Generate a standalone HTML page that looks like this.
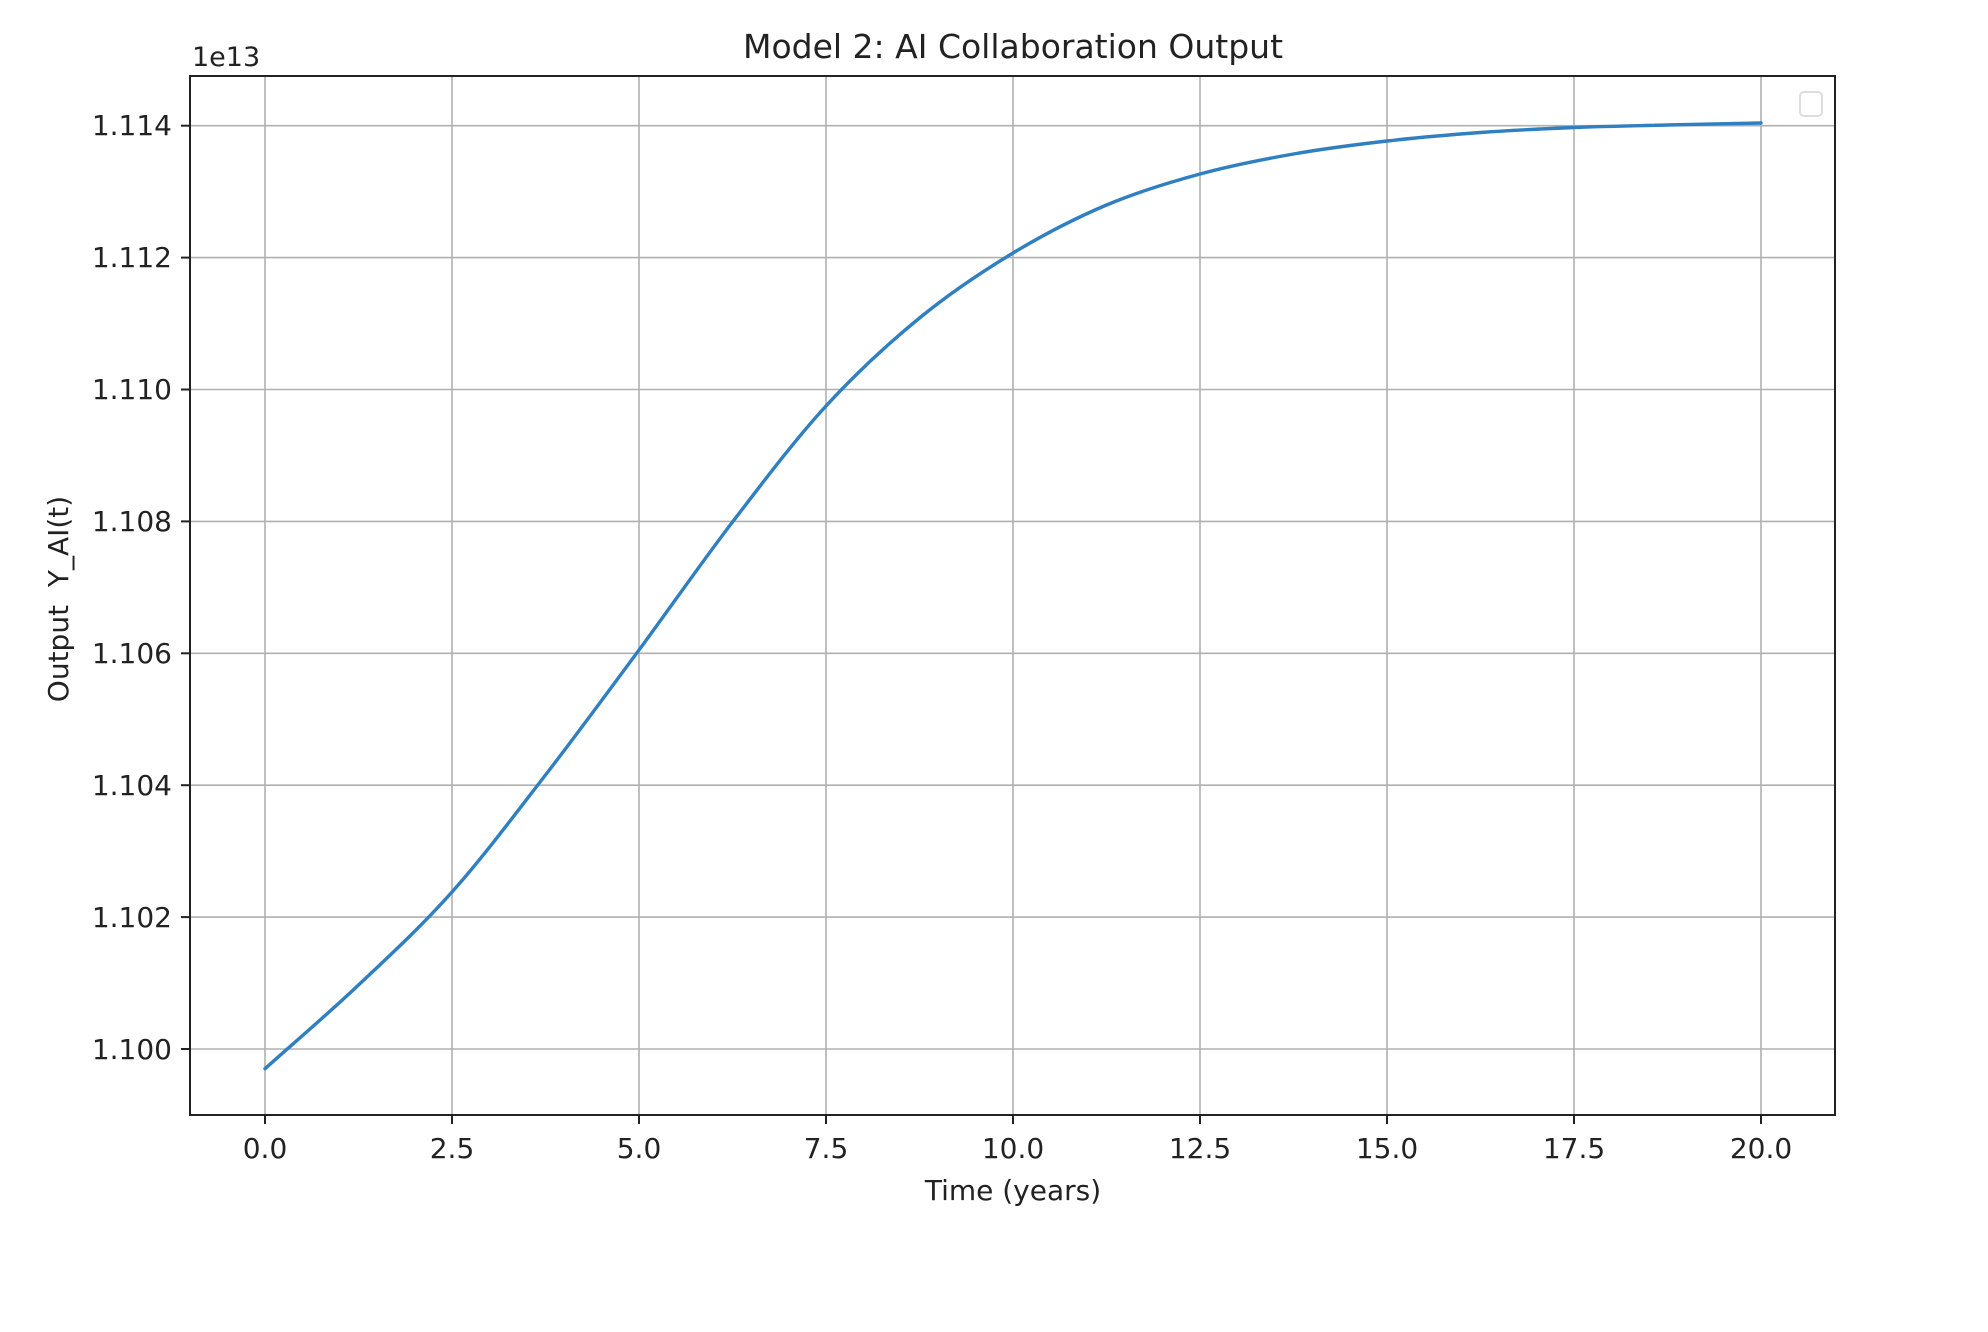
<!DOCTYPE html>
<html><head><meta charset="utf-8"><style>
html,body{margin:0;padding:0;background:#fff;}
svg{display:block;font-family:"DejaVu Sans","Liberation Sans",sans-serif;}
</style></head><body>
<svg width="1988" height="1332" viewBox="0 0 1988 1332" xmlns="http://www.w3.org/2000/svg">
<rect width="1988" height="1332" fill="#fff"/>
<g stroke="#b0b0b0" stroke-width="1.6">
<line x1="265" y1="76" x2="265" y2="1115"/><line x1="452" y1="76" x2="452" y2="1115"/>
<line x1="639" y1="76" x2="639" y2="1115"/><line x1="826" y1="76" x2="826" y2="1115"/>
<line x1="1013" y1="76" x2="1013" y2="1115"/><line x1="1200" y1="76" x2="1200" y2="1115"/>
<line x1="1387" y1="76" x2="1387" y2="1115"/><line x1="1574" y1="76" x2="1574" y2="1115"/>
<line x1="1761" y1="76" x2="1761" y2="1115"/>
<line x1="190" y1="125.7" x2="1835" y2="125.7"/><line x1="190" y1="257.6" x2="1835" y2="257.6"/>
<line x1="190" y1="389.5" x2="1835" y2="389.5"/><line x1="190" y1="521.4" x2="1835" y2="521.4"/>
<line x1="190" y1="653.3" x2="1835" y2="653.3"/><line x1="190" y1="785.2" x2="1835" y2="785.2"/>
<line x1="190" y1="917.1" x2="1835" y2="917.1"/><line x1="190" y1="1049" x2="1835" y2="1049"/>
</g>
<path fill="none" stroke="#2f7fc1" stroke-width="3.4" stroke-linejoin="round" stroke-linecap="round"
d="M265,1068.7
C296.2,1040.8 327.3,1014.5 358.5,985
C389.7,955.6 420.8,927 452,892
C483.2,857 514.3,815.3 545.5,775
C576.7,734.7 607.8,692.2 639,650
C670.2,607.8 701.3,562.7 732.5,522
C763.7,481.3 794.8,440 826,406
C857.2,372 888.3,343.5 919.5,318
C950.7,292.5 981.8,271.8 1013,253
C1044.2,234.2 1075.3,218.2 1106.5,205
C1137.7,191.8 1168.8,182.5 1200,174
C1231.2,165.5 1262.3,159.5 1293.5,154
C1324.7,148.5 1355.8,144.6 1387,141
C1418.2,137.4 1449.3,134.8 1480.5,132.5
C1511.7,130.2 1542.8,128.8 1574,127.5
C1605.2,126.2 1636.3,125.8 1667.5,125
C1698.7,124.2 1729.8,123.7 1761,123"/>
<rect x="190" y="76" width="1645" height="1039" fill="none" stroke="#222" stroke-width="2"/>
<rect x="1800" y="92" width="22" height="24" rx="4" fill="none" stroke="#ddd" stroke-width="2"/>
<g stroke="#222" stroke-width="2">
<line x1="265" y1="1115" x2="265" y2="1124"/><line x1="452" y1="1115" x2="452" y2="1124"/>
<line x1="639" y1="1115" x2="639" y2="1124"/><line x1="826" y1="1115" x2="826" y2="1124"/>
<line x1="1013" y1="1115" x2="1013" y2="1124"/><line x1="1200" y1="1115" x2="1200" y2="1124"/>
<line x1="1387" y1="1115" x2="1387" y2="1124"/><line x1="1574" y1="1115" x2="1574" y2="1124"/>
<line x1="1761" y1="1115" x2="1761" y2="1124"/>
<line x1="181" y1="125.7" x2="190" y2="125.7"/><line x1="181" y1="257.6" x2="190" y2="257.6"/>
<line x1="181" y1="389.5" x2="190" y2="389.5"/><line x1="181" y1="521.4" x2="190" y2="521.4"/>
<line x1="181" y1="653.3" x2="190" y2="653.3"/><line x1="181" y1="785.2" x2="190" y2="785.2"/>
<line x1="181" y1="917.1" x2="190" y2="917.1"/><line x1="181" y1="1049" x2="190" y2="1049"/>
</g>
<g font-size="28" fill="#222" text-anchor="middle">
<text x="265" y="1158">0.0</text><text x="452" y="1158">2.5</text><text x="639" y="1158">5.0</text>
<text x="826" y="1158">7.5</text><text x="1013" y="1158">10.0</text><text x="1200" y="1158">12.5</text>
<text x="1387" y="1158">15.0</text><text x="1574" y="1158">17.5</text><text x="1761" y="1158">20.0</text>
</g>
<g font-size="28" fill="#222" text-anchor="end">
<text x="172" y="135">1.114</text><text x="172" y="267">1.112</text><text x="172" y="399">1.110</text>
<text x="172" y="531">1.108</text><text x="172" y="663">1.106</text><text x="172" y="795">1.104</text>
<text x="172" y="927">1.102</text><text x="172" y="1059">1.100</text>
</g>
<text x="192" y="66" font-size="27" fill="#222">1e13</text>
<text x="1013" y="58" font-size="33" fill="#222" text-anchor="middle">Model 2: AI Collaboration Output</text>
<text x="1013" y="1200" font-size="28" fill="#222" text-anchor="middle">Time (years)</text>
<text transform="translate(68,599) rotate(-90)" font-size="28" fill="#222" text-anchor="middle">Output&#160; Y_AI(t)</text>
</svg>
</body></html>
